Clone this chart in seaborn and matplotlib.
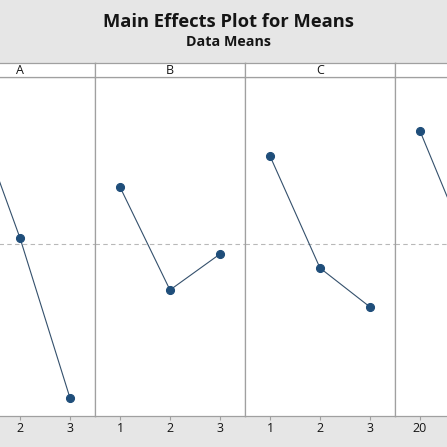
import numpy as np
import pandas as pd
import matplotlib.pyplot as plt
import seaborn as sns

# main effects (data means)
factors = ["A", "B", "C", "D"]
level_labels = {
    "A": ["1", "2", "3"],
    "B": ["1", "2", "3"],
    "C": ["1", "2", "3"],
    "D": ["20", "30", "40"],
}
means_a = [32.0, 18.2, 2.2]
means_b = [23.3, 13.0, 16.6]
means_c = [26.4, 15.2, 11.3]
means_d = [28.9, 16.8, 7.1]

rows = []
for f, vals in zip(factors, [means_a, means_b, means_c, means_d]):
    for i, v in enumerate(vals, 1):
        rows.append({"factor": f, "pos": i, "mean": v})
df = pd.DataFrame(rows)
grand_mean = df["mean"].mean()

sns.set_style("white")
plt.rcParams["font.family"] = ["Open Sans", "DejaVu Sans"]

W = H = 447
bg = "#e6e6e6"
edge = "#a0a0a0"
pt_col = "#1f4e7a"
line_col = "#34506c"
txt = "#151515"


def box(x0, y0, x1, y1):
    # pixel box (top-left origin) -> figure fraction
    return [x0 / W, (H - y1) / H, (x1 - x0) / W, (y1 - y0) / H]


fig = plt.figure(figsize=(W / 100, H / 100), dpi=100, facecolor=bg)

for i, f in enumerate(factors):
    x0 = -55 + 150 * i
    sub = df[df["factor"] == f]

    ax = fig.add_axes(box(x0, 77, x0 + 150, 416))
    ax.set_facecolor("white")
    ax.axhline(grand_mean, color="#b8b8b8", ls=(0, (4, 3)), lw=0.8, zorder=1)
    sns.lineplot(data=sub, x="pos", y="mean", ax=ax, color=line_col, lw=0.8,
                 marker="o", markersize=5.8, markerfacecolor=pt_col,
                 markeredgecolor=pt_col, zorder=3)
    ax.set_xlim(0.5, 3.5)
    ax.set_ylim(0.4, 34.3)
    ax.set_xticks([1, 2, 3], level_labels[f])
    ax.set_yticks([])
    ax.set_xlabel("")
    ax.set_ylabel("")
    ax.tick_params(axis="x", length=3, color=edge, labelsize=9, pad=1.5,
                   labelcolor=txt, bottom=True)
    for s in ax.spines.values():
        s.set_color(edge)
        s.set_linewidth(0.9)

    sx = fig.add_axes(box(x0, 63, x0 + 150, 77))
    sx.set_facecolor("white")
    sx.set_xticks([])
    sx.set_yticks([])
    sx.text(0.5, 0.45, f, ha="center", va="center", fontsize=9, color=txt,
            transform=sx.transAxes)
    for s in sx.spines.values():
        s.set_color(edge)
        s.set_linewidth(0.9)

fig.text(228 / W, 1 - 22 / H, "Main Effects Plot for Means", ha="center",
         va="center", fontsize=13.2, fontweight="bold", color=txt)
fig.text(228 / W, 1 - 42 / H, "Data Means", ha="center", va="center",
         fontsize=10.3, fontweight="bold", color=txt)

fig.savefig("out.png", dpi=100, facecolor=bg)
